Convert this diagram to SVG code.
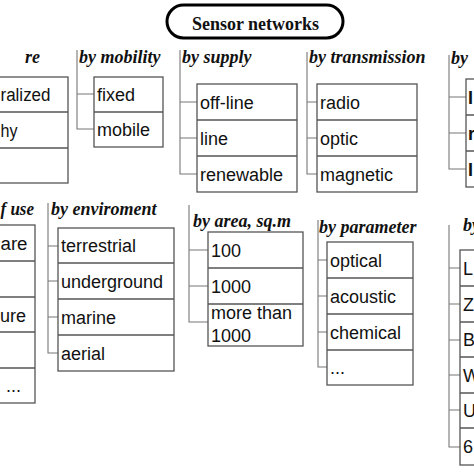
<svg xmlns="http://www.w3.org/2000/svg" width="474" height="474" viewBox="0 0 474 474">
<style>
.bx{fill:#fff;stroke:#555;stroke-width:1.3}
.dv{stroke:#555;stroke-width:1.3;fill:none}
.cn{stroke:#777;stroke-width:1.1;fill:none}
.hd{font-family:"Liberation Serif","Times New Roman",serif;font-style:italic;font-weight:bold;font-size:18px;fill:#111}
.it{font-family:"Liberation Sans",Arial,sans-serif;font-size:18px;fill:#111}
.ib{font-family:"Liberation Sans",Arial,sans-serif;font-size:18px;font-weight:bold;fill:#111}
.tt{font-family:"Liberation Serif","Times New Roman",serif;font-weight:bold;font-size:19px;fill:#111}
</style>
<rect width="474" height="474" fill="#fff"/>

<g id="connectors">
  <path class="cn" d="M77,50 V129 H94 M77,94 H94"/>
  <path class="cn" d="M180,50 V174 H197 M180,102 H197 M180,138 H197"/>
  <path class="cn" d="M307,52 V174 H317 M307,102 H317 M307,138 H317"/>
  <path class="cn" d="M449,55 V169 H466 M449,97 H466 M449,133 H466"/>
  <path class="cn" d="M48,203 V353 H58 M48,246 H58 M48,281 H58 M48,317 H58"/>
  <path class="cn" d="M189,205 V322 H208 M189,250 H208 M189,286 H208"/>
  <path class="cn" d="M318,220 V367 H327 M318,260 H327 M318,296 H327 M318,332 H327"/>
  <path class="cn" d="M449,225 V447 H460 M449,268 H460 M449,304 H460 M449,340 H460 M449,375 H460 M449,410 H460"/>
</g>

<g id="title">
  <rect x="167" y="5" width="176" height="33" rx="16.5" fill="#fff" stroke="#000" stroke-width="3"/>
  <text class="tt" x="255.5" y="30" text-anchor="middle" textLength="127" lengthAdjust="spacingAndGlyphs">Sensor networks</text>
</g>

<g id="by-structure">
  <text class="hd" x="40" y="63" text-anchor="end">re</text>
  <rect class="bx" x="-20" y="77" width="88" height="106"/>
  <path class="dv" d="M-20,112 H68 M-20,148 H68"/>
  <text class="it" x="0.5" y="101" textLength="50" lengthAdjust="spacingAndGlyphs">ralized</text>
  <text class="it" x="0.5" y="137" textLength="17" lengthAdjust="spacingAndGlyphs">hy</text>
</g>

<g id="by-mobility">
  <text class="hd" x="79" y="63">by mobility</text>
  <rect class="bx" x="94" y="77" width="69" height="70"/>
  <path class="dv" d="M94,112 H163"/>
  <text class="it" x="97" y="101">fixed</text>
  <text class="it" x="97" y="136">mobile</text>
</g>

<g id="by-supply">
  <text class="hd" x="182" y="63">by supply</text>
  <rect class="bx" x="197" y="84" width="100" height="108"/>
  <path class="dv" d="M197,120 H297 M197,156 H297"/>
  <text class="it" x="200" y="108.5">off-line</text>
  <text class="it" x="200" y="144.5">line</text>
  <text class="it" x="200" y="180.5">renewable</text>
</g>

<g id="by-transmission">
  <text class="hd" x="309" y="63">by transmission</text>
  <rect class="bx" x="317" y="84" width="100" height="108"/>
  <path class="dv" d="M317,120 H417 M317,156 H417"/>
  <text class="it" x="320" y="108.5">radio</text>
  <text class="it" x="320" y="144.5">optic</text>
  <text class="it" x="320" y="180.5">magnetic</text>
</g>

<g id="by-right-top">
  <text class="hd" x="451" y="64">by</text>
  <rect class="bx" x="466" y="79" width="40" height="108"/>
  <path class="dv" d="M466,115 H506 M466,151 H506"/>
  <text class="ib" x="468" y="104">I</text>
  <text class="ib" x="468" y="140">r</text>
  <text class="ib" x="468" y="176">I</text>
</g>

<g id="by-type-of-use">
  <text class="hd" x="0.5" y="215" textLength="33.5" lengthAdjust="spacingAndGlyphs">f use</text>
  <rect class="bx" x="-20" y="225" width="55" height="178"/>
  <path class="dv" d="M-20,261 H35 M-20,297 H35 M-20,332 H35 M-20,368 H35"/>
  <text class="it" x="0.5" y="249.5" textLength="27" lengthAdjust="spacingAndGlyphs">are</text>
  <text class="it" x="0" y="321.5">ure</text>
  <text class="it" x="6" y="392">...</text>
</g>

<g id="by-enviroment">
  <text class="hd" x="51" y="215">by enviroment</text>
  <rect class="bx" x="58" y="228" width="116" height="143"/>
  <path class="dv" d="M58,263 H174 M58,299 H174 M58,335 H174"/>
  <text class="it" x="61" y="252">terrestrial</text>
  <text class="it" x="61" y="287.5">underground</text>
  <text class="it" x="61" y="323.5">marine</text>
  <text class="it" x="61" y="359.5">aerial</text>
</g>

<g id="by-area">
  <text class="hd" x="193" y="227">by area, sq.m</text>
  <rect class="bx" x="208" y="232" width="95" height="114"/>
  <path class="dv" d="M208,268 H303 M208,304 H303"/>
  <text class="it" x="211" y="256.5">100</text>
  <text class="it" x="211" y="292.5">1000</text>
  <text class="it" x="211" y="319">more than</text>
  <text class="it" x="211" y="342">1000</text>
</g>

<g id="by-parameter">
  <text class="hd" x="319" y="233">by parameter</text>
  <rect class="bx" x="327" y="242" width="86" height="143"/>
  <path class="dv" d="M327,278 H413 M327,314 H413 M327,350 H413"/>
  <text class="it" x="330" y="266.5">optical</text>
  <text class="it" x="330" y="302.5">acoustic</text>
  <text class="it" x="330" y="338.5">chemical</text>
  <text class="it" x="330" y="374">...</text>
</g>

<g id="by-right-bottom">
  <text class="hd" x="463" y="231">by</text>
  <rect class="bx" x="460" y="250" width="40" height="215"/>
  <path class="dv" d="M460,286 H500 M460,322 H500 M460,357 H500 M460,393 H500 M460,428 H500"/>
  <text class="it" x="463" y="274.5">L</text>
  <text class="it" x="463" y="310.5">Z</text>
  <text class="it" x="463" y="346">B</text>
  <text class="it" x="463" y="381.5">W</text>
  <text class="it" x="463" y="417">U</text>
  <text class="it" x="463" y="453">6</text>
</g>
</svg>
